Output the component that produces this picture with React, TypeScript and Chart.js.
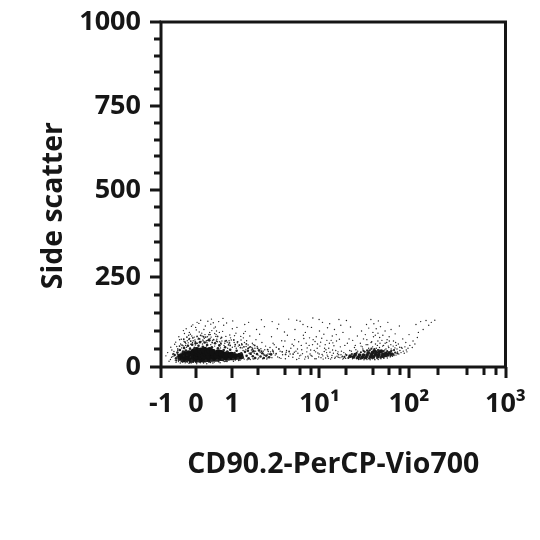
import React, { useEffect, useRef } from "react";
import { Chart, registerables, LinearScale } from "chart.js";

Chart.register(...registerables);

const xMajor = [-1, 0, 1, 10, 100, 1000];
const xLabels = ["-1", "0", "1", "10¹", "10²", "10³"];
const xMinor = [2, 4, 6, 8, 20, 40, 60, 80, 200, 400, 600, 800];
const yMajor = [0, 250, 500, 750, 1000];
const yMinor = [50, 100, 150, 200, 300, 350, 400, 450, 550, 600, 650, 700, 800, 850, 900, 950];

// dense centre of the negative population
const leftCore: number[][] = [
  [-0.44, 28], [-0.36, 23], [-0.33, 35], [-0.22, 26], [-0.2, 37], [-0.13, 21], [-0.08, 31], [-0.06, 42],
  [0.02, 22], [0.03, 30], [0.05, 38], [0.02, 46], [0.13, 22], [0.15, 29], [0.12, 37], [0.14, 45],
  [0.24, 22], [0.22, 31], [0.26, 39], [0.23, 47], [0.35, 23], [0.36, 31], [0.33, 40], [0.38, 46],
  [0.47, 24], [0.49, 33], [0.46, 41], [0.6, 25], [0.58, 32], [0.62, 40], [0.72, 26], [0.74, 33], [0.71, 38],
  [0.84, 27], [0.86, 34], [0.97, 28], [0.98, 33], [1.1, 29], [1.24, 30],
];
const leftMid: number[][] = [
  [-0.61, 33], [-0.57, 24], [-0.53, 40], [-0.49, 20], [-0.46, 47], [-0.41, 17], [-0.37, 43], [-0.34, 53], [-0.27, 16], [-0.29, 46],
  [-0.23, 59], [-0.17, 51], [-0.12, 17], [-0.11, 62], [-0.04, 52], [-0.01, 66], [0.06, 16], [0.07, 59], [0.11, 69], [0.19, 56],
  [0.27, 17], [0.24, 68], [0.31, 61], [0.37, 74], [0.43, 18], [0.44, 55], [0.53, 66], [0.59, 19], [0.61, 52], [0.65, 60],
  [0.73, 21], [0.77, 47], [0.81, 55], [0.87, 43], [0.91, 21], [0.95, 48], [1.03, 22], [1.07, 39], [1.13, 45], [1.17, 24],
  [1.28, 38], [1.33, 26], [1.41, 42], [1.47, 31], [1.55, 24], [1.63, 37], [1.73, 30], [1.84, 25], [1.93, 36], [2.12, 29],
  [2.31, 25], [2.22, 38], [2.48, 32], [2.66, 27], [2.8, 35], [1.52, 45], [1.76, 44], [2.04, 46],
];
const leftRing: number[][] = [
  [-0.52, 47], [-0.4, 61], [-0.31, 69], [-0.2, 77], [-0.09, 81], [0.03, 85], [0.13, 88], [0.27, 83], [0.36, 90], [0.49, 76],
  [0.6, 85], [0.71, 82], [0.84, 73], [0.93, 67], [1.05, 75], [1.16, 70], [1.3, 62], [1.46, 64], [1.62, 56], [1.82, 60],
  [-0.47, 58], [-0.35, 77], [-0.26, 83], [-0.15, 72], [-0.02, 70], [0.1, 78], [0.21, 84], [0.33, 74], [0.45, 68], [0.57, 72],
  [0.69, 66], [0.81, 72], [0.95, 60], [1.09, 62], [1.25, 54], [1.37, 56], [1.54, 52], [1.72, 50], [1.96, 52], [2.18, 44],
  [-0.66, 36], [-0.56, 18], [-0.38, 14], [-0.18, 13], [0, 13], [0.2, 14], [0.4, 13], [0.63, 15], [0.86, 16], [1.2, 20],
  [2.34, 33], [2.56, 48], [2.7, 36], [2.95, 44], [3.2, 37], [3.44, 50], [3.75, 42], [4.1, 35], [4.5, 43], [5, 36],
];
const leftHalo: number[][] = [
  [-0.86, 31], [-0.73, 21], [-0.81, 40], [-0.66, 29], [-0.77, 16], [-0.69, 47], [-0.64, 37], [-0.72, 55], [-0.59, 19], [-0.63, 43],
  [-0.61, 63], [-0.7, 27], [-0.57, 13], [-0.52, 51], [-0.58, 69], [-0.48, 26], [-0.55, 57], [-0.47, 76], [-0.53, 34], [-0.44, 64],
  [-0.39, 15], [-0.49, 84], [-0.41, 53], [-0.34, 71], [-0.45, 11], [-0.37, 59], [-0.33, 93], [-0.42, 77], [-0.29, 65], [-0.31, 12],
  [-0.36, 101], [-0.25, 73], [-0.27, 55], [-0.21, 88], [-0.2, 10], [-0.28, 106], [-0.15, 63], [-0.18, 79], [-0.24, 60], [-0.13, 113],
  [-0.16, 91], [-0.07, 13], [-0.1, 68], [-0.19, 96], [-0.02, 61], [-0.05, 83], [-0.09, 117], [0.02, 9], [-0.03, 75], [0.01, 103],
  [-0.12, 86], [0.04, 66], [0.03, 124], [0.07, 80], [0.12, 12], [0.09, 97], [0.14, 71], [-0.01, 110], [0.17, 86], [0.13, 130],
  [0.19, 75], [0.21, 11], [0.16, 94], [0.08, 121], [0.23, 80], [0.26, 114], [0.28, 69], [0.3, 9], [0.25, 90], [0.33, 127],
  [0.22, 104], [0.35, 77], [0.38, 96], [0.36, 13], [0.32, 84], [0.41, 119], [0.29, 73], [0.44, 101], [0.4, 90], [0.47, 11],
  [0.43, 133], [0.39, 79], [0.5, 108], [0.52, 93], [0.48, 123], [0.55, 85], [0.51, 14], [0.46, 74], [0.57, 100], [0.6, 70],
  [0.63, 126], [0.56, 90], [0.67, 12], [0.69, 79], [0.54, 111], [0.72, 72], [0.65, 96], [0.75, 135], [0.7, 64], [0.79, 15],
  [0.83, 85], [0.77, 116], [0.87, 69], [0.74, 99], [0.9, 61], [0.82, 16], [0.94, 89], [0.85, 122], [0.98, 75], [0.91, 63],
  [1.01, 106], [1.04, 16], [0.96, 81], [1.08, 57], [1.11, 94], [1.02, 128], [1.15, 67], [1.19, 18], [1.07, 87], [1.22, 60],
  [1.14, 110], [1.27, 75], [1.31, 53], [1.24, 19], [1.36, 93], [1.29, 65], [1.4, 118], [1.44, 49], [1.35, 81], [1.49, 20],
  [1.53, 61], [1.42, 99], [1.58, 55], [1.47, 73], [1.62, 21], [1.67, 47], [1.55, 124], [1.71, 66], [1.6, 86], [1.78, 22],
  [1.83, 52], [1.69, 41], [1.91, 104], [1.75, 62], [1.97, 22], [2.03, 49], [1.88, 76], [2.1, 41], [2.17, 131], [1.94, 57],
  [2.24, 23], [2.3, 36], [2.07, 91], [2.37, 48], [2.45, 30], [2.2, 68], [2.52, 25], [2.6, 43], [2.35, 112], [2.72, 54],
  [-0.35, 31], [-0.26, 33], [-0.16, 28], [-0.05, 55], [0.08, 50], [0.18, 64], [0.29, 58], [0.41, 62], [0.52, 58], [0.68, 53],
  [0.78, 60], [0.88, 52], [1.01, 55], [1.12, 52], [1.21, 62], [1.34, 46], [1.45, 57], [1.57, 38], [1.69, 54], [1.86, 44],
  [-0.54, 29], [-0.43, 38], [-0.3, 60], [-0.22, 67], [-0.08, 73], [0.06, 77], [0.2, 72], [0.31, 67], [0.42, 83], [0.58, 77],
  [0.66, 70], [0.8, 66], [0.92, 73], [1.06, 68], [1.18, 58], [1.26, 85], [1.39, 68], [1.51, 51], [1.65, 35], [1.8, 38],
  [1.99, 33], [2.14, 51], [2.28, 44], [2.42, 58], [2.58, 36], [2.76, 42], [2.86, 26], [2.95, 66], [-0.5, 15], [-0.24, 14],
  [-0.14, 11], [0.1, 14], [0.34, 15], [0.55, 16], [0.76, 17], [1.09, 19], [1.38, 22], [1.74, 23], [2.02, 25], [2.5, 22],
];
const midField: number[][] = [
  [3.12, 33], [2.91, 47], [3.63, 24], [3.04, 62], [4.2, 46], [3.33, 28], [2.83, 84], [3.79, 34], [4.71, 52], [3.48, 26],
  [3.42, 119], [5.16, 41], [4.03, 72], [4.44, 30], [5.83, 24], [3.87, 57], [6.4, 37], [3.98, 97], [5.38, 44], [4.96, 27],
  [7.05, 66], [6.12, 33], [4.45, 133], [5.61, 50], [7.47, 25], [4.17, 41], [6.63, 79], [8.23, 30], [5.07, 59], [9.16, 23],
  [5.25, 104], [7.81, 36], [8.71, 46], [6.93, 28], [5.78, 70], [9.58, 39], [6.01, 127], [10.4, 26], [7.24, 53], [8.02, 32],
  [6.55, 88], [11.3, 43], [12.6, 24], [7.62, 60], [10.9, 31], [7.31, 112], [9.92, 36], [8.47, 76], [13.7, 26], [11.8, 48],
  [12.2, 33], [8.4, 136], [10.1, 58], [14.8, 24], [13.1, 41], [9.2, 84], [15.7, 30], [11.4, 52], [16.9, 26], [10, 100],
  [14.3, 38], [12.9, 66], [17.8, 28], [15.2, 46], [18.6, 24], [13.5, 74], [16.4, 34], [17.1, 56], [3.55, 44], [13, 120],
  [2.98, 39], [4.62, 36], [5.94, 31], [7.16, 42], [8.86, 23], [9.41, 52], [10.7, 35], [12.4, 29], [14, 47], [15.9, 37],
  [3.21, 55], [4.08, 23], [4.87, 63], [5.49, 21], [6.27, 48], [6.78, 22], [7.93, 47], [8.33, 62], [9.77, 28], [10.3, 69],
  [11, 22], [11.6, 62], [12, 40], [12.7, 52], [13.3, 22], [14.5, 59], [15, 27], [15.5, 72], [16.1, 42], [17.4, 34],
  [3.7, 73], [4.3, 88], [5.2, 76], [6.2, 60], [6.9, 96], [7.7, 81], [8.9, 71], [9.5, 64], [10.6, 80], [11.2, 91],
  [12.1, 74], [13.9, 86], [14.1, 67], [15.4, 90], [16.7, 77], [17.6, 44], [18.3, 96], [19.2, 60], [20, 129], [21.4, 78],
  [22.2, 111], [5.67, 38], [7.38, 30], [9.03, 42], [11.7, 25], [13.8, 32], [16.2, 27], [18.1, 30], [19.5, 36], [3.3, 106],
  [10.8, 124], [6.48, 118], [14.7, 104], [17.3, 116], [8.1, 110], [2.88, 126], [16.5, 132], [12.3, 109], [5.5, 130], [9.9, 132],
];
const rightCore: number[][] = [
  [22, 30], [24, 28], [25, 34], [27, 27], [28, 33], [30, 27], [31, 33], [33, 27], [34, 33], [35, 39],
  [37, 28], [38, 34], [39, 40], [40, 28], [42, 34], [43, 41], [45, 29], [46, 35], [47, 42], [50, 30],
  [51, 36], [54, 32], [55, 38], [58, 34], [60, 39], [64, 36], [49, 44], [41, 45],
];
const rightMid: number[][] = [
  [19, 28], [20, 33], [21, 25], [23, 36], [26, 24], [26, 39], [29, 23], [29, 41], [32, 24], [32, 42],
  [36, 24], [36, 46], [39, 24], [41, 50], [44, 25], [45, 47], [48, 26], [52, 27], [52, 44], [56, 30],
  [57, 44], [62, 31], [63, 44], [67, 35], [70, 40], [74, 38], [68, 47], [34, 46], [38, 51], [31, 45],
];
const rightHalo: number[][] = [
  [18.2, 22], [18.7, 40], [24.6, 54], [19.6, 24], [21.8, 46], [20.5, 66], [27.3, 21], [22.7, 44], [29.1, 58], [23.4, 23],
  [25.5, 48], [23.5, 74], [31.4, 20], [26.7, 44], [33.2, 62], [28.2, 22], [35.4, 52], [26.5, 86], [36.8, 20], [30.5, 50],
  [37.7, 68], [33.9, 21], [39.2, 56], [29.5, 100], [41.6, 20], [43.1, 52], [31, 78], [34.6, 62], [45.2, 21], [32.5, 90],
  [46.8, 54], [33.5, 118], [48.6, 23], [38.3, 70], [50.7, 58], [35.5, 108], [52.4, 24], [42.2, 64], [40.1, 84], [37.5, 132],
  [55.3, 50], [57.2, 25], [44.9, 72], [39.5, 96], [59.4, 54], [40.5, 120], [61.7, 28], [47.4, 66], [42, 88], [63.1, 50],
  [43, 106], [65.2, 30], [49.8, 74], [51.9, 60], [45, 94], [45.5, 128], [67.9, 32], [54.1, 66], [47, 82], [69.6, 53],
  [48, 112], [71.5, 33], [56.3, 68], [51, 88], [73.4, 50], [58.7, 58], [54, 100], [60.2, 72], [76.8, 36], [79.1, 46],
  [58, 124], [62.6, 62], [60, 84], [81.4, 40], [83.7, 52], [63, 104], [66.5, 58], [86.2, 44], [67, 72], [89.9, 56],
  [70, 92], [72, 60], [93.1, 47], [76, 64], [78, 114], [97.4, 52], [82, 54], [85, 78], [102, 60], [92, 68],
  [108, 54], [100, 90], [115, 64], [110, 72], [118, 118], [125, 96], [132, 126], [140, 104], [150, 129], [160, 116],
  [170, 124], [185, 130], [122, 82], [35.7, 23], [41.2, 22], [53.6, 47], [46.1, 48], [37.2, 47], [30.1, 56], [25.1, 60],
  [64.4, 46], [74.3, 42], [88.4, 38], [94.7, 42], [78.6, 55], [70.8, 68], [56.9, 76], [44.3, 60], [33.8, 76], [28.6, 66],
];

const toPoints = (rows: number[][]) => rows.map(([x, y]) => ({ x, y }));

function pieceScale(id: string, stops: number[], fracs: number[], logFrom: number) {
  const toFrac = (v: number) => {
    let i = 0;
    while (i < stops.length - 2 && v > stops[i + 1]) i++;
    const a = stops[i], b = stops[i + 1];
    const t = a >= logFrom && v > 0 ? Math.log(v / a) / Math.log(b / a) : (v - a) / (b - a);
    return fracs[i] + t * (fracs[i + 1] - fracs[i]);
  };
  return class extends LinearScale {
    static id = id;
    static defaults = LinearScale.defaults;
    getPixelForValue(v: number) {
      return this.getPixelForDecimal(toFrac(v));
    }
  };
}

const XScale = pieceScale("flowX", xMajor, [0, 0.1016, 0.206, 0.46, 0.72, 1], 1);
const YScale = pieceScale("flowY", yMajor, [0, 0.261, 0.513, 0.7565, 1], Infinity);
Chart.register(XScale as any, YScale as any);

const INK = "#161616";
const FONT = "'Open Sans', sans-serif";

const frame = {
  id: "frame",
  afterDraw(chart: any) {
    const { ctx, chartArea: a, scales } = chart;
    ctx.save();
    ctx.strokeStyle = INK;
    ctx.lineWidth = 3;
    ctx.strokeRect(a.left, a.top, a.right - a.left, a.bottom - a.top);
    const xTick = (v: number, len: number) => {
      const p = Math.round(scales.x.getPixelForValue(v));
      ctx.beginPath();
      ctx.moveTo(p, a.bottom);
      ctx.lineTo(p, a.bottom + len);
      ctx.stroke();
    };
    const yTick = (v: number, len: number) => {
      const p = Math.round(scales.y.getPixelForValue(v));
      ctx.beginPath();
      ctx.moveTo(a.left, p);
      ctx.lineTo(a.left - len, p);
      ctx.stroke();
    };
    xMajor.forEach((v) => xTick(v, 11));
    xMinor.forEach((v) => xTick(v, 8));
    yMajor.forEach((v) => yTick(v, 11));
    yMinor.forEach((v) => yTick(v, 7));
    ctx.restore();
  },
};

const layer = (label: string, rows: number[][], radius: number, color: string) => ({
  label,
  data: toPoints(rows),
  pointRadius: radius,
  pointBackgroundColor: color,
  pointBorderWidth: 0,
});

const tickFont = { family: FONT, size: 27, weight: "700" };
const titleFont = { family: FONT, size: 28.5, weight: "700" };

export default function App() {
  const ref = useRef<HTMLCanvasElement>(null);
  useEffect(() => {
    const chart = new Chart(ref.current!, {
      type: "scatter",
      data: {
        datasets: [
          layer("halo", leftHalo, 0.7, "#222"),
          layer("field", midField, 0.7, "#222"),
          layer("right halo", rightHalo, 0.7, "#222"),
          layer("ring", leftRing, 0.9, "#222"),
          layer("left mid", leftMid, 1.3, "#222"),
          layer("right mid", rightMid, 1.1, "#222"),
          layer("left core", leftCore, 3.4, "#111"),
          layer("right core", rightCore, 1.9, "#1a1a1a"),
        ],
      },
      options: {
        animation: false,
        responsive: false,
        layout: { padding: { top: 22, right: 34.5 } },
        plugins: { legend: { display: false }, tooltip: { enabled: false } },
        scales: {
          x: {
            type: "flowX",
            min: -1,
            max: 1000,
            grid: { display: false },
            border: { display: false },
            afterBuildTicks: (s: any) => {
              s.ticks = xMajor.map((value) => ({ value }));
            },
            afterFit: (s: any) => {
              s.height = 173;
              s.paddingLeft = 0;
              s.paddingRight = 0;
            },
            ticks: {
              autoSkip: false,
              maxRotation: 0,
              padding: 13,
              color: INK,
              font: tickFont,
              callback: (v: any) => xLabels[xMajor.indexOf(v)],
            },
            title: {
              display: true,
              text: "CD90.2-PerCP-Vio700",
              color: INK,
              font: titleFont,
              padding: { top: 0, bottom: 58 },
            },
          },
          y: {
            type: "flowY",
            min: 0,
            max: 1000,
            grid: { display: false },
            border: { display: false },
            afterBuildTicks: (s: any) => {
              s.ticks = yMajor.map((value) => ({ value }));
            },
            afterFit: (s: any) => {
              s.width = 161;
              s.paddingTop = 0;
              s.paddingBottom = 0;
            },
            ticks: {
              autoSkip: false,
              padding: 12,
              color: INK,
              font: tickFont,
              callback: (v: any) => String(v),
            },
            title: {
              display: true,
              text: "Side scatter   ",
              color: INK,
              font: titleFont,
              padding: { top: 37, bottom: 0 },
            },
          },
        },
      } as any,
      plugins: [frame],
    } as any);
    return () => chart.destroy();
  }, []);
  return (
    <div style={{ position: "absolute", left: 0, top: 0, width: 540, height: 540 }}>
      <canvas ref={ref} width={540} height={540} style={{ display: "block" }} />
    </div>
  );
}
